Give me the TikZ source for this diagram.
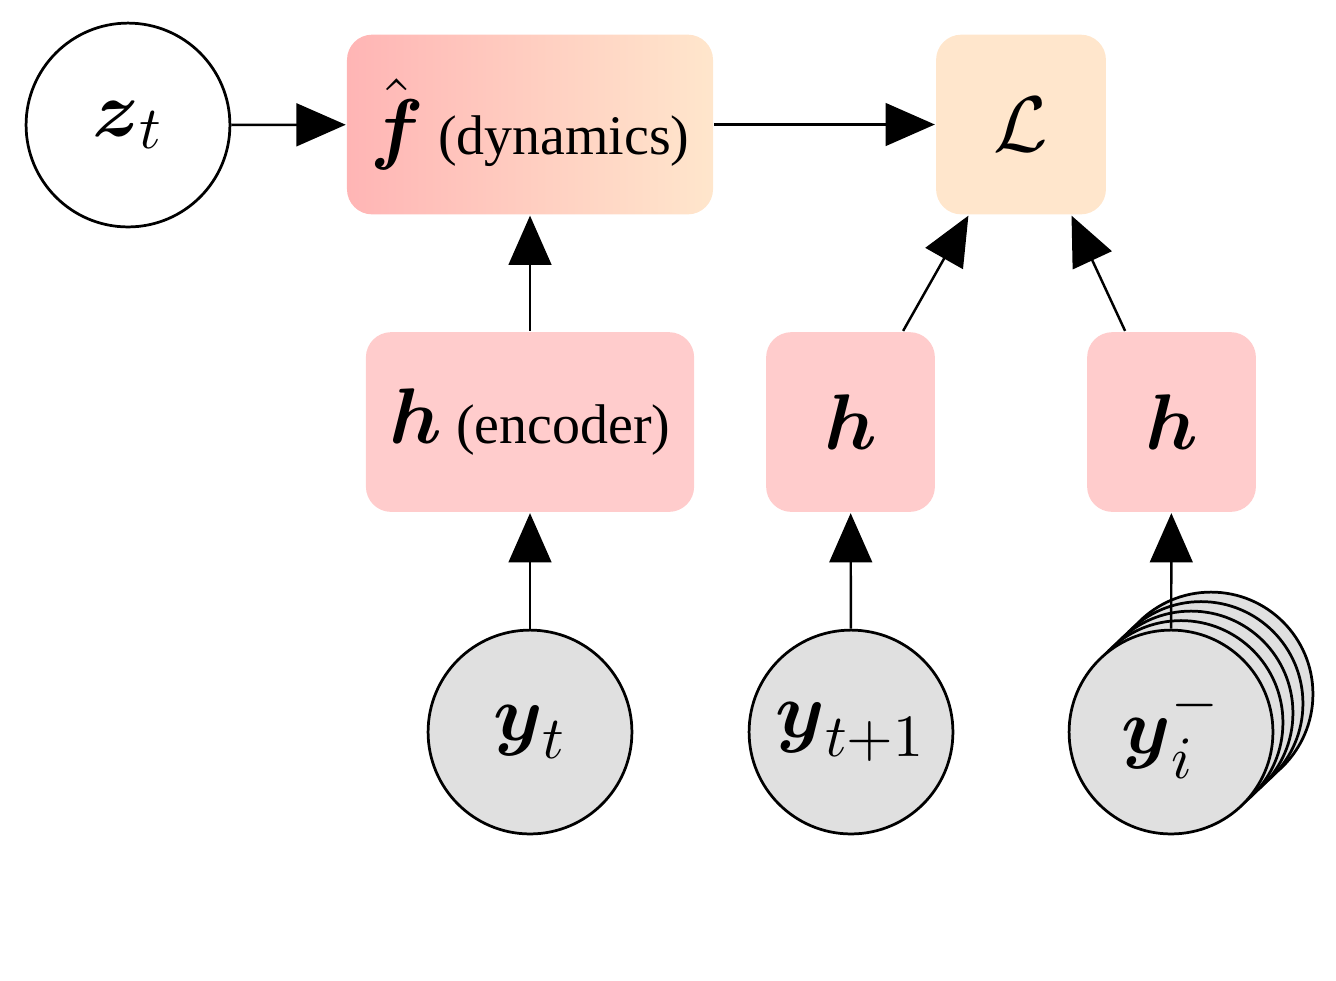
\documentclass[tikz,border=0pt]{standalone}
\usepackage{amsmath}
\usepackage{fontspec}
\setmainfont{Liberation Serif}
\usepackage{tikz}
\usetikzlibrary{arrows.meta}
\usetikzlibrary{positioning}
\definecolor{encfill}{HTML}{FFCCCC}
\definecolor{lossfill}{HTML}{FFE6CC}
\definecolor{dynleft}{HTML}{FFB5B5}
\definecolor{obsfill}{HTML}{E0E0E0}
\newcommand{\boxmathsize}{\fontsize{13.5}{15}\selectfont}
\tikzset{
    block/.style={
           rectangle,
           rounded corners=4.6pt,
           draw=none,
           minimum height=32.8pt,
           inner sep=2pt,
           text centered,
           font=\fontsize{10.2}{12}\selectfont,
           },
    encbox/.style={block, fill=encfill},
    latent/.style={
           circle,
           draw=black, line width=0.5pt,
           minimum size=37.2pt,
           inner sep=0pt,
           font=\fontsize{15}{17}\selectfont,
           },
    observed/.style={latent, fill=obsfill},
    boxmath/.style={font=\boxmathsize},
}

\begin{document}
\begin{tikzpicture}[x=0.1825pt,y=-0.1825pt,
    ->,>={Triangle[length=9pt,width=7.8pt]},line width=0.45pt]

 \useasboundingbox (0,0) rectangle (1336,980);

 % top row
 \node[latent] (zt) at (128,125) {$\boldsymbol{z}_t$};
 \node[block, left color=dynleft, right color=lossfill,
       minimum width=66.8pt] (dyn) at (530,124.5)
 {{\boxmathsize$\hat{\boldsymbol{f}}$} (dynamics)};
 \node[block, fill=lossfill, minimum width=31pt] (loss) at (1021,124.5)
 {{\fontsize{14.5}{16}\selectfont$\mathcal{L}$}};

 % encoders
 \node[encbox, minimum width=59.9pt] (enc) at (530,422)
 {{\boxmathsize$\boldsymbol{h}$} (encoder)};
 \node[encbox, minimum width=30.8pt, boxmath] (hpos) at (850.5,422) {$\boldsymbol{h}$};
 \node[encbox, minimum width=30.8pt, boxmath] (hneg) at (1171.5,422) {$\boldsymbol{h}$};

 % observations
 \node[observed] (yt) at (530,732) {$\boldsymbol{y}_t$};
 \node[observed] (ynext) at (851,732) {$\boldsymbol{y}_{t+1}$};
 \foreach \k in {4,3,2,1}
  \node[observed] (ystack\k) at (1171+10*\k,732-9.5*\k) {};
 \node[observed] (yneg) at (1171,732) {$\boldsymbol{y}_i^{-}$};

 % connections
 \draw (zt) -- (dyn);
 \draw (dyn) -- (loss);
 \draw (enc) -- (dyn);
 \draw (hpos.60) -- (loss.240);
 \draw (hneg.117) -- (loss.299);
 \draw (yt) -- (enc);
 \draw (ynext) -- (hpos);
 \draw (yneg) -- (hneg);

\end{tikzpicture}
\end{document}
